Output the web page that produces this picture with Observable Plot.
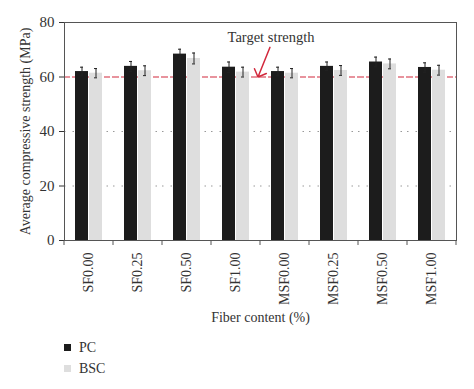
<!DOCTYPE html>
<html><head><meta charset="utf-8">
<script src="https://cdn.jsdelivr.net/npm/d3@7"></script>
<script src="https://cdn.jsdelivr.net/npm/@observablehq/plot@0.6"></script>
<style>
body{margin:0;background:#fff;font-family:"Liberation Serif","Times New Roman",serif;color:#333}
#legend{margin-left:64px;margin-top:7px;font-size:14px}
.item{display:flex;align-items:center;height:21px}
.sw{width:7px;height:7px;margin-right:8px}
</style></head><body><div id="chart"></div><div id="legend"></div>
<script>
const categories = ["SF0.00","SF0.25","SF0.50","SF1.00","MSF0.00","MSF0.25","MSF0.50","MSF1.00"];
const seriesNames = ["PC","BSC"];
const pcValues  = [62.0, 63.9, 68.4, 63.6, 62.0, 63.9, 65.5, 63.5];
const pcErrors  = [1.6, 1.8, 1.8, 1.9, 1.6, 1.6, 1.8, 1.7];
const bscValues = [61.4, 62.3, 66.8, 61.8, 61.4, 62.4, 64.8, 62.5];
const bscErrors = [1.7, 1.8, 2.0, 1.8, 1.7, 1.8, 1.8, 1.8];
const yTicks = [0, 20, 40, 60, 80];
const gridValues = [20, 40];
const targetStrength = 60;
const targetLabel = "Target strength";
const targetLabelY = 74.5;
const annotationCategory = "MSF0.00";
const seriesColors = ["#1c1c1c", "#dedede"];
const yLabel = "Average compressive strength (MPa)";
const xLabel = "Fiber content (%)";

const rows = categories.flatMap((c, i) => [
  {category: c, series: "PC", value: pcValues[i], error: pcErrors[i]},
  {category: c, series: "BSC", value: bscValues[i], error: bscErrors[i]}
]);
const annotation = [{category: annotationCategory, series: "PC", y: targetLabelY, label: targetLabel, target: targetStrength}];
const red = "#d2283c";
const ink = "#222";

const frameWithTicks = Plot.frame({
  facet: "super", stroke: "#555",
  render(index, scales, values, dims, context, next) {
    const node = next(index, scales, values, dims, context);
    const g = d3.create("svg:g");
    g.node().appendChild(node);
    const band = d3.scaleBand(categories, [dims.marginLeft, dims.width - dims.marginRight]);
    const yb = dims.height - dims.marginBottom;
    const bounds = [...categories.map(c => band(c)), band(categories[categories.length - 1]) + band.bandwidth()];
    g.selectAll("line.bt").data(bounds).join("line")
      .attr("x1", d => d).attr("x2", d => d)
      .attr("y1", yb).attr("y2", yb + 5)
      .attr("stroke", "#555");
    return g.node();
  }
});

const chart = Plot.plot({
  width: 474, height: 330,
  marginLeft: 62, marginRight: 17, marginTop: 22, marginBottom: 90,
  style: {fontFamily: '"Liberation Serif","Times New Roman",serif', fontSize: "14px", color: "#333", background: "#fff"},
  fx: {domain: categories, padding: 0},
  x: {domain: seriesNames, paddingInner: 0.04, paddingOuter: 0.76, axis: null},
  y: {domain: [0, 80]},
  color: {domain: seriesNames, range: seriesColors},
  marks: [
    Plot.ruleY(gridValues, {stroke: "#999", strokeDasharray: "1.5,7"}),
    Plot.ruleY([targetStrength], {stroke: red, strokeDasharray: "6,2", strokeWidth: 1.2}),
    Plot.barY(rows, {fx: "category", x: "series", y: "value", fill: "series"}),
    Plot.ruleX(rows, {fx: "category", x: "series", y1: d => d.value - d.error, y2: d => d.value + d.error, stroke: ink}),
    Plot.tickY(rows, {fx: "category", x: "series", y: d => d.value + d.error, stroke: ink, insetLeft: 5, insetRight: 5}),
    Plot.tickY(rows, {fx: "category", x: "series", y: d => d.value - d.error, stroke: ink, insetLeft: 5, insetRight: 5}),
    Plot.text(annotation, {fx: "category", x: "series", y: "y", text: "label", dx: -7, fontSize: 14.5, fill: "#333"}),
    Plot.vector(annotation, {fx: "category", x: "series", y: "target", length: 32, rotate: 202, anchor: "end", stroke: red, dx: -20, dy: 0}),
    Plot.axisY(yTicks, {tickSize: 5, tickPadding: 5, fontSize: 15, label: null}),
    Plot.axisY({ticks: [], label: yLabel, labelArrow: "none", labelAnchor: "center", labelOffset: 44, fontSize: 14}),
    Plot.axisFx({anchor: "bottom", tickSize: 0, tickRotate: -90, tickPadding: 12, fontSize: 14, label: xLabel, labelArrow: "none", labelAnchor: "center", labelOffset: 81}),
    frameWithTicks
  ]
});
document.getElementById("chart").appendChild(chart);

const legend = d3.select("#legend");
seriesNames.forEach((s, i) => {
  const it = legend.append("div").attr("class", "item");
  it.append("div").attr("class", "sw").style("background", seriesColors[i]);
  it.append("span").text(s);
});
</script></body></html>
